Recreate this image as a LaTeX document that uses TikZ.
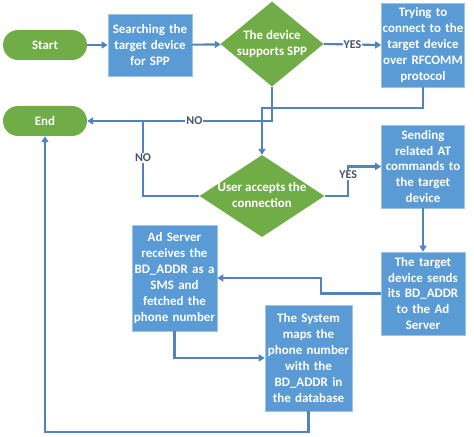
\documentclass[tikz,border=0pt]{standalone}
\usepackage{fontspec}
\setmainfont{Carlito}
\usepackage{tikz}
\usetikzlibrary{arrows.meta,shapes}
\definecolor{stepgreen}{RGB}{112,173,71}
\definecolor{stepblue}{RGB}{91,155,213}
\definecolor{edgeblue}{RGB}{157,195,230}
\definecolor{linkblue}{RGB}{84,130,190}
\definecolor{lblgray}{RGB}{68,84,106}
\newcommand{\dlines}[2]{\makebox[#1]{\begin{tabular}{@{}c@{}}#2\end{tabular}}}

\begin{document}
\begin{tikzpicture}[>={Triangle[length=6bp,width=7bp]}]
      \tikzstyle{every node}=[font=\bfseries\fontsize{13}{16}\selectfont, text=white]
      \tikzstyle{term}=[rectangle, rounded corners=15bp, fill=stepgreen, minimum width=84bp, minimum height=30bp, inner sep=0pt]
      \tikzstyle{decide}=[diamond, fill=stepgreen, inner sep=0pt]
      \tikzstyle{stepbox}=[rectangle, fill=stepblue, draw=edgeblue, line width=.6bp, align=center, inner xsep=1bp, inner ysep=0pt]
      \tikzstyle{link}=[draw=linkblue, line width=2.1bp]
      \tikzstyle{lbl}=[fill=white, text=lblgray, inner sep=1bp, font=\bfseries\fontsize{12}{14}\selectfont]
      \useasboundingbox (0bp,0bp) rectangle (474bp,437bp);
      %%
  \node (start) at (45bp,392bp) [term] {Start};
  \node (end) at (45bp,316bp) [term] {End};
  \node (search) at (150bp,392bp) [stepbox, text width=82bp, minimum height=62bp] {Searching the\\target device\\for SPP};
  \node (spp) at (272bp,393bp) [decide, shape aspect=1.212, minimum width=103bp, minimum height=85bp] {\dlines{64bp}{The device\\supports SPP}};
  \node (tryconn) at (423bp,392bp) [stepbox, text width=81bp, minimum height=84bp] {Trying to\\connect to the\\target device\\over RFCOMM\\protocol};
  \node (accept) at (262bp,241bp) [decide, shape aspect=1.524, minimum width=125bp, minimum height=82bp] {\dlines{76bp}{User accepts the\\connection}};
  \node (sendat) at (423bp,270.5bp) [stepbox, text width=81bp, minimum height=83bp] {Sending\\related AT\\commands to\\the target\\device};
  \node (sendaddr) at (423bp,143.5bp) [stepbox, text width=82bp, minimum height=83bp] {The target\\device sends\\its BD\_ADDR\\to the Ad\\Server};
  \node (adserver) at (174.5bp,159bp) [stepbox, text width=83bp, minimum height=106bp] {Ad Server\\receives the\\BD\_ADDR as a\\SMS and\\fetched the\\phone number};
  \node (mapnum) at (308.5bp,79bp) [stepbox, text width=85bp, minimum height=106bp] {The System\\maps the\\phone number\\with the\\BD\_ADDR in\\the database};
  \coordinate (nojoin) at (143bp,316bp);
  \draw [link,->] (start) -- (search);
  \draw [link,->] (search) -- (spp);
  \draw [link,->] (spp.east) -- node[lbl] {YES} (tryconn.west);
  \draw [link,->] (spp.south) |- node[lbl, pos=0.71] {NO} (end.east);
  \draw [link,->] (tryconn.south) -- ++(0bp,-21bp) -| (accept.north);
  \draw [link] (accept.west) -| node[lbl, pos=0.755] {NO} (nojoin);
  \draw [link,->] (accept.east) -- ++(23.5bp,0bp) |- node[lbl, pos=0.356] {YES} (sendat.west);
  \draw [link,->] (sendat) -- (sendaddr);
  \draw [link,->] (sendaddr.west) -- ++(-60bp,0bp) |- (adserver.east);
  \draw [link,->] (adserver.south) |- (mapnum.west);
  \draw [link,->] (mapnum.south) -- ++(0bp,-21bp) -| (end.south);
%
\end{tikzpicture}
\end{document}
